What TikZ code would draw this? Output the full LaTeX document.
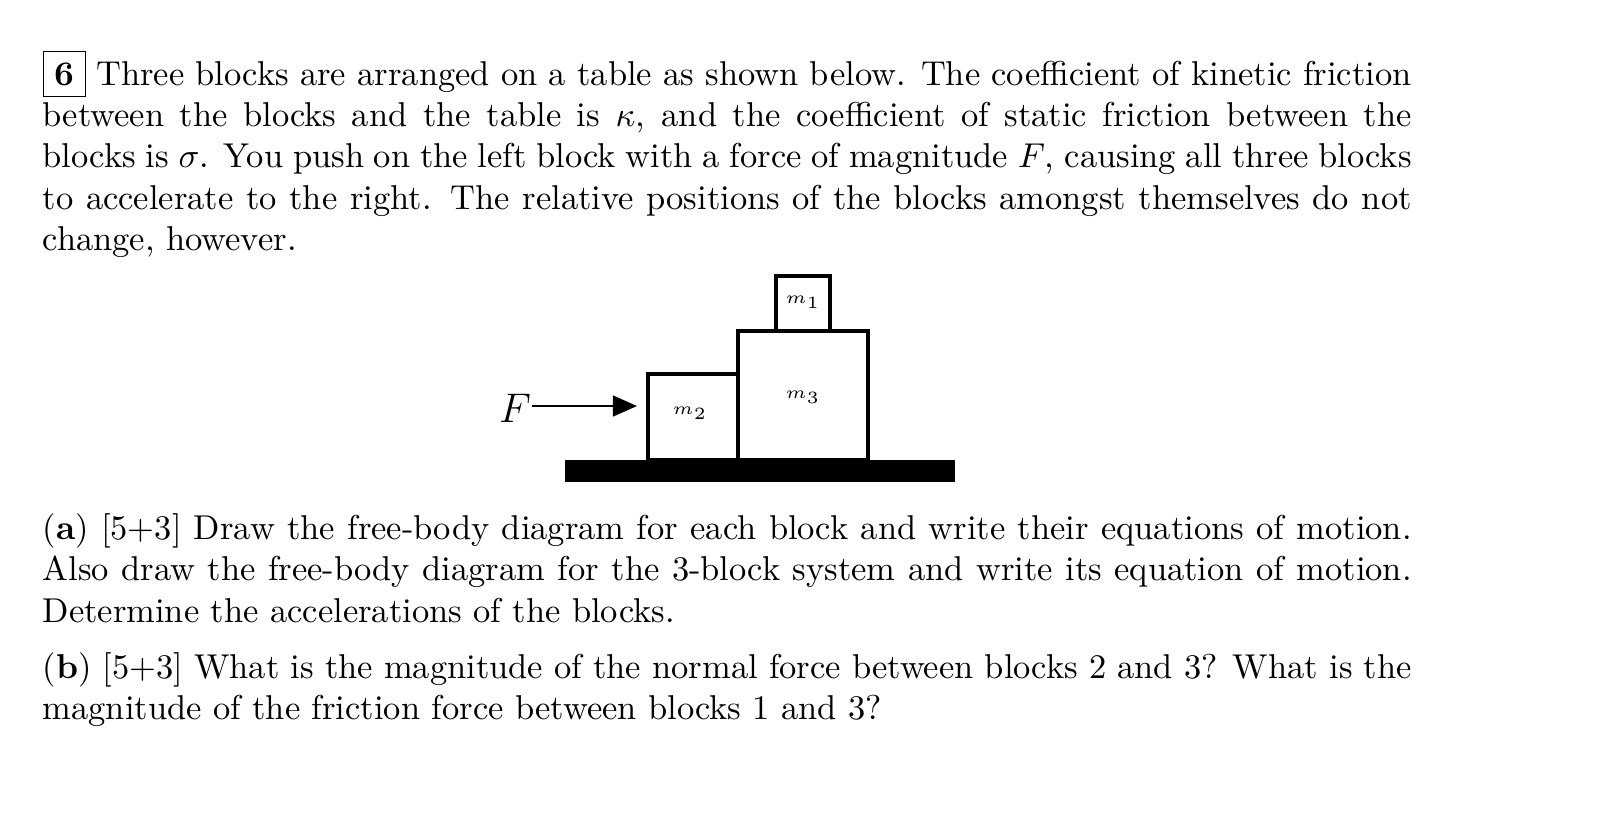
\documentclass[tikz,border=0pt]{standalone}
\usetikzlibrary{arrows.meta}
\begin{document}
\begin{tikzpicture}[x=0.29pt,y=-0.29pt,
  par/.style={anchor=north west,text width=397pt,align=justify,inner sep=0pt,font=\fontsize{10}{12}\selectfont},
  blk/.style={draw,line width=0.9pt},
  lab/.style={font=\tiny}]
\useasboundingbox (0,0) rectangle (1604,820);
\node[par] (p1) at (42,50) {\fbox{\textbf{6}}\hspace{0.3em}Three blocks are arranged on a table as shown below. The coefficient of kinetic friction between the blocks and the table is $\kappa$, and the coefficient of static friction between the blocks is $\sigma$. You push on the left block with a force of magnitude $F$, causing all three blocks to accelerate to the right. The relative positions of the blocks amongst themselves do not change, however.};
\fill (565,460) rectangle (955,482);
\draw[blk] (648,374) rectangle (738,460);
\draw[blk] (738,331) rectangle (868,460);
\draw[blk] (776,276) rectangle (830,331);
\node[lab] (m2) at (690,413) {$m_2$};
\node[lab] (m3) at (803,397) {$m_3$};
\node[lab] (m1) at (803,302) {$m_1$};
\node[inner sep=0pt] (F) at (515,408) {\fontsize{12}{14}\selectfont $F$};
\coordinate (Ftip) at (637,406);
\draw[line width=0.8pt,-{Triangle[length=7pt,width=6pt]}] (F.east |- Ftip) -- (Ftip);
\node[par] (pa) at (42,513) {(\textbf{a}) [5+3] Draw the free-body diagram for each block and write their equations of motion. Also draw the free-body diagram for the 3-block system and write its equation of motion. Determine the accelerations of the blocks.};
\node[par] (pb) at (42,652) {(\textbf{b}) [5+3] What is the magnitude of the normal force between blocks 2 and 3? What is the magnitude of the friction force between blocks 1 and 3?};
\end{tikzpicture}
\end{document}
